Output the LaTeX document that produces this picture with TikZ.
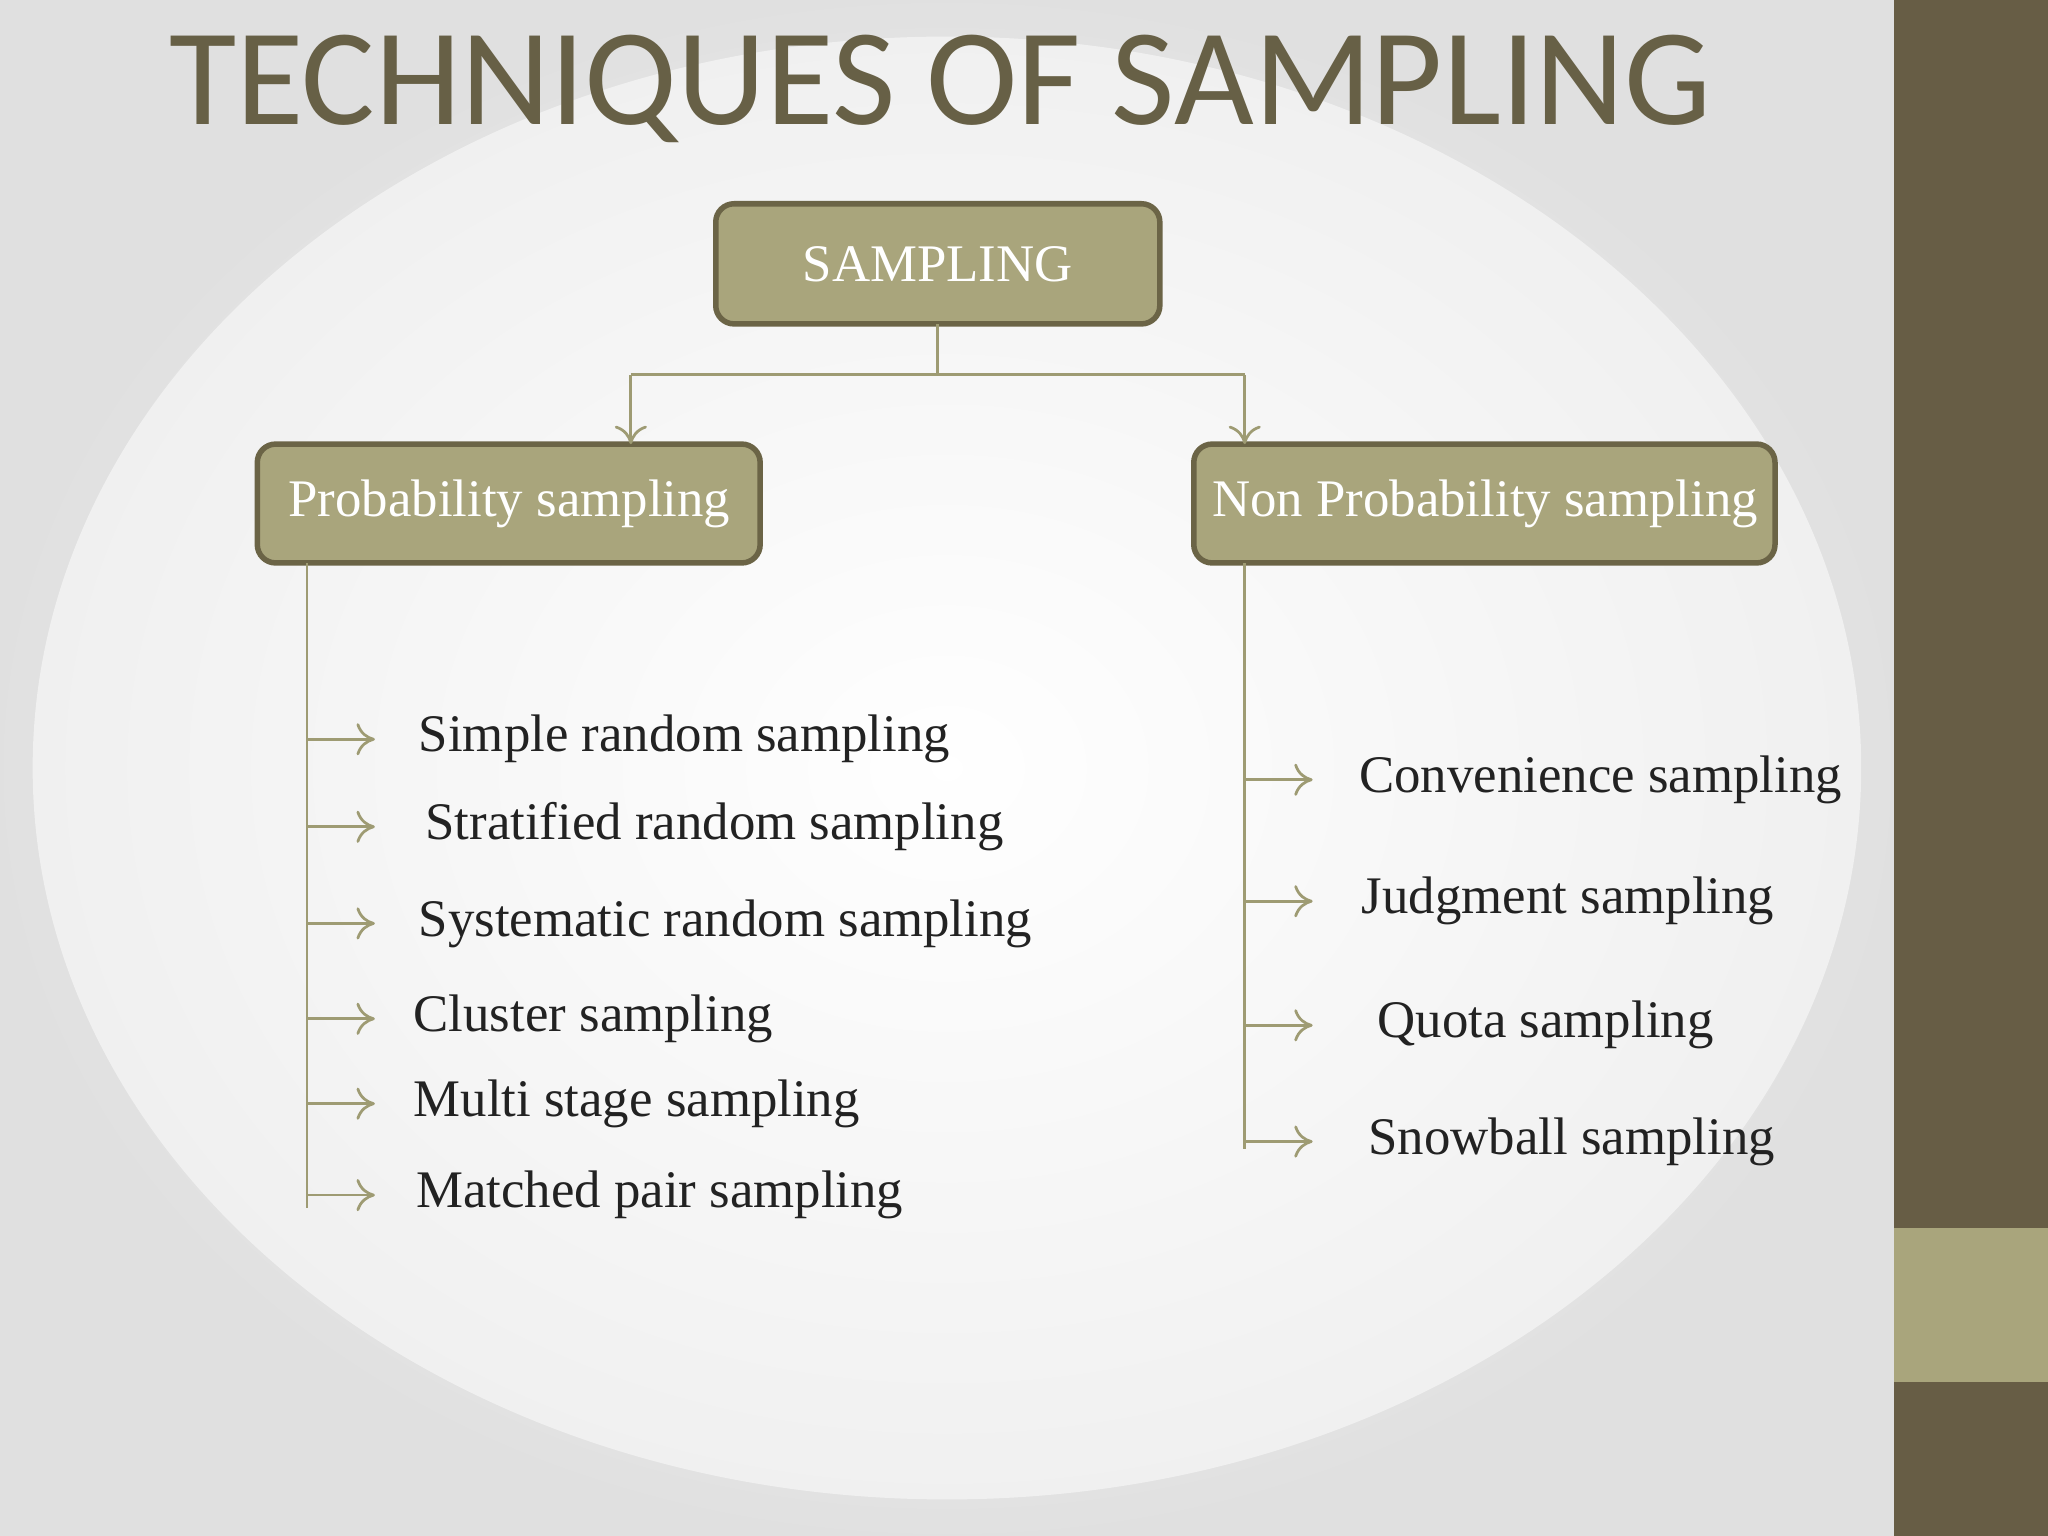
\documentclass[tikz,border=0pt]{standalone}
\usepackage{fontspec}
\usetikzlibrary{arrows.meta}
\setmainfont{Liberation Serif}
\newfontfamily\titlefont{Carlito}
\definecolor{boxfill}{HTML}{A9A57C}
\definecolor{boxedge}{HTML}{6B6446}
\definecolor{darkbar}{HTML}{675D45}
\definecolor{titlecol}{HTML}{676046}
\definecolor{linecol}{HTML}{9E9B73}
\definecolor{txt}{HTML}{222222}
\tikzset{
 catbox/.style={draw=boxedge,line width=1.2pt,fill=boxfill,rounded corners=4pt},
 boxtext/.style={text=white,font=\fontsize{11.5}{13}\selectfont},
 conn/.style={draw=linecol,line width=0.6pt},
 arr/.style={conn,-{To[length=4pt,width=7pt]}},
 item/.style={anchor=west,text=txt,font=\fontsize{11.5}{13}\selectfont,inner sep=0pt}
}
\begin{document}
\begin{tikzpicture}[x=0.01cm,y=-0.01cm]
\useasboundingbox (0,0) rectangle (1568,1176);
\shade[inner color=white,outer color=black!12] (0,0) rectangle (1450,1176);
\fill[white,opacity=0.5] (725,588) ellipse (700 and 560);
\fill[darkbar] (1450,0) rectangle (1568,1176);
\fill[boxfill] (1450,940) rectangle (1568,1058);
\node[text=titlecol,font=\titlefont\fontsize{30}{32}\selectfont,anchor=center] (title) at (720,68) {TECHNIQUES OF SAMPLING};
\path[catbox] (548,156) rectangle (888,248);
\node[boxtext] (sl) at (718,202) {SAMPLING};
\path[catbox] (197,340) rectangle (582,431);
\node[boxtext] (pl) at (390,386) {Probability sampling};
\path[catbox] (914,340) rectangle (1359,431);
\node[boxtext] (nl) at (1137,386) {Non Probability sampling};
\coordinate (sb) at (718,248);
\coordinate (j) at (718,287);
\coordinate (jl) at (483,287);
\coordinate (jr) at (953,287);
\coordinate (pt) at (483,340);
\coordinate (nt) at (953,340);
\draw[conn] (sb) -- (j) (jl) -- (jr);
\draw[arr] (jl) -- (pt);
\draw[arr] (jr) -- (nt);
\coordinate (lt) at (235,431); \coordinate (lb) at (235,925);
\draw[conn] (lt) -- (lb);
\foreach \y/\x/\t [count=\i] in {566/320/Simple random sampling,633/325/Stratified random sampling,707/320/Systematic random sampling,780/316/Cluster sampling,845/316/Multi stage sampling,915/318/Matched pair sampling}{
 \coordinate (la\i) at (235,\y);
 \coordinate (lh\i) at (287,\y);
 \draw[arr] (la\i) -- (lh\i);
 \node[item] (li\i) at (\x,\y) {\t};
}
\coordinate (rt) at (953,431); \coordinate (rb) at (953,880);
\draw[conn] (rt) -- (rb);
\foreach \y/\x/\t [count=\i] in {597/1040/Convenience sampling,690/1042/Judgment sampling,785/1054/Quota sampling,874/1047/Snowball sampling}{
 \coordinate (ra\i) at (953,\y);
 \coordinate (rh\i) at (1005,\y);
 \draw[arr] (ra\i) -- (rh\i);
 \node[item] (ri\i) at (\x,\y) {\t};
}
\end{tikzpicture}
\end{document}
